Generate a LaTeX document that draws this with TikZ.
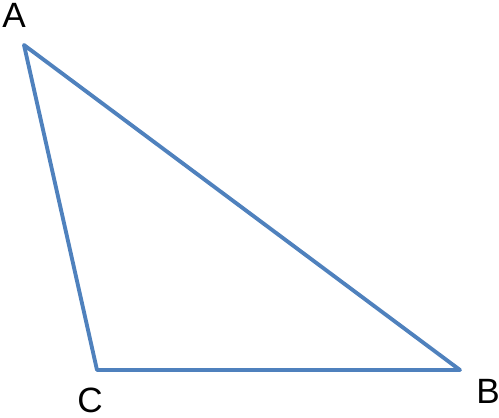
\documentclass[tikz,border=0pt]{standalone}
\usepackage{fontspec}
\setmainfont{Liberation Sans}
\usepackage{tikz}
\definecolor{edgeblue}{RGB}{79,129,189}
\tikzstyle{Side}=[draw=edgeblue, line width=2.2pt, line join=round]
\tikzstyle{Vertex}=[font=\fontsize{20}{24}\selectfont, inner sep=0pt]

\begin{document}
\begin{tikzpicture}[x=0.02cm, y=-0.02cm]

\useasboundingbox (0,0) rectangle (499,417);

\coordinate (A) at (24,45);
\coordinate (B) at (460,370);
\coordinate (C) at (97,370);

\draw[Side] (A) -- (B) -- (C) -- cycle;

\node[Vertex] (labelA) at (14,15.5) {A};
\node[Vertex] (labelB) at (488,391.5) {B};
\node[Vertex] (labelC) at (90,400) {C};

\end{tikzpicture}
\end{document}
